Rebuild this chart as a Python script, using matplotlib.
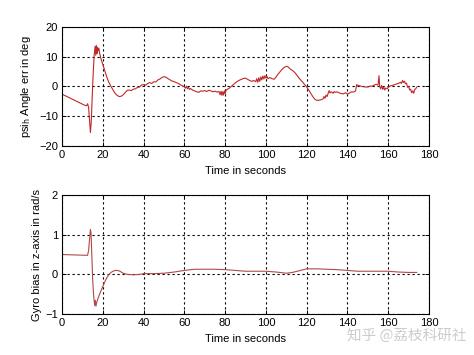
import matplotlib
matplotlib.use("Agg")
import matplotlib.pyplot as plt

# ---- data ----
top_t = [0, 3, 6, 9, 11, 12, 12.5, 13, 13.5, 13.9, 14.3, 14.8, 15.3, 15.8, 16.2, 16.5, 16.8, 17.1, 17.4, 17.7,
         18, 18.5, 19, 20, 21, 22, 23, 24, 25, 26, 27, 28, 29, 30, 31, 32, 33, 34, 35, 36, 37, 38, 39, 40,
         41, 42, 43, 44, 45, 46, 47, 48, 49, 50, 51, 52, 53, 54, 55, 56, 57, 58, 59, 60, 60.5, 61, 61.5, 62,
         62.5, 63, 64, 65, 66, 67, 68, 69, 70, 71, 72, 73, 74, 75, 76, 77, 77.5, 78, 78.4, 78.8, 79.2, 79.6,
         80, 80.5, 81, 82, 83, 84, 85, 86, 87, 88, 89, 90, 91, 92, 93, 94, 95, 95.5, 96, 96.5, 97, 97.5, 98,
         98.5, 99, 99.5, 100, 100.5, 101, 102, 103, 104, 105, 106, 107, 108, 109, 110, 111, 112, 113, 114,
         115, 116, 117, 118, 119, 120, 121, 122, 123, 124, 125, 126, 127, 128, 128.5, 129, 129.5, 130, 130.5,
         131, 131.5, 132, 133, 133.5, 134, 135, 136, 137, 138, 139, 140, 141, 142, 143, 144, 144.5, 145, 146,
         147, 148, 149, 150, 151, 152, 153, 154, 155, 155.5, 155.8, 156.3, 156.8, 157.3, 157.8, 158.3, 158.8,
         159.5, 160, 161, 162, 163, 164, 165, 166, 166.5, 167, 167.5, 168, 168.5, 169, 169.5, 170, 170.5, 171,
         171.5, 172, 172.5, 173, 173.5, 174]
top_y = [-2.6, -3.6, -4.6, -5.6, -6.3, -6.5, -5.8, -7, -12, -15.5, -12, -3, 5, 11, 13.5, 10.5, 13.8, 11, 13.2, 12,
         12.8, 11, 9.5, 7.3, 5, 3, 1.3, 0, -1.2, -2.3, -3, -3.4, -3.3, -2.8, -2, -1.3, -1.2, -1.4, -0.9, -0.8,
         -0.3, -0.2, 0.5, 0.6, 0.4, 1.0, 1.3, 1.0, 1.6, 1.5, 2.2, 2.5, 3.0, 3.3, 3.1, 2.6, 2.2, 1.8, 1.6, 1.3,
         1.0, 0.6, 0.2, -0.1, -0.6, 0.1, -0.8, -0.3, -1.0, -0.7, -1.2, -1.5, -1.8, -2.0, -1.5, -1.6, -1.4, -1.7,
         -1.3, -1.5, -1.8, -1.6, -1.9, -1.7, -2.8, -1.6, -3.0, -1.8, -2.9, -1.5, -2.4, -1.2, -1.0, -0.6, 0.0,
         0.6, 1.2, 1.7, 2.1, 2.4, 2.7, 2.8, 2.4, 2.0, 1.7, 2.0, 1.6, 2.6, 1.4, 2.9, 1.7, 3.2, 2.2, 3.5, 2.5, 3.6,
         2.8, 3.4, 2.6, 3.0, 2.6, 2.4, 3.2, 4.2, 5.0, 5.8, 6.4, 6.8, 6.5, 5.8, 5.4, 4.8, 4.0, 3.0, 2.2, 1.5,
         0.6, -0.2, -1.2, -2.3, -3.4, -4.3, -4.7, -4.6, -4.5, -4.2, -3.4, -4.0, -2.9, -3.4, -2.4, -1.4, -2.2,
         -1.8, -2.3, -1.7, -2.0, -1.8, -2.2, -2.4, -2.5, -2.1, -2.6, -2.2, -1.8, -1.9, -1.5, 0.6, 0.4, 0.2, 0.0,
         -0.1, -0.2, -0.2, 0.1, 0.1, 0.4, 0.7, 0.5, 3.6, 0.2, -0.8, 0.3, -1.0, -0.2, -1.2, -0.5, -0.8, -0.3,
         0.2, 0.3, 0.6, 0.8, 1.0, 1.4, 1.0, 2.0, 1.3, 1.8, 0.9, 1.1, -0.3, 0.1, -1.2, -0.9, -2.1, -1.5, -2.3,
         -1.0, -0.8, -0.2]

bias_t = [0, 12.5, 13.0, 13.5, 13.9, 14.2, 14.5, 15, 15.5, 16, 16.3, 16.6, 17, 17.5, 18, 19, 20, 21, 22, 23,
          24, 25, 26, 27, 28, 29, 30, 32, 35, 38, 40, 45, 50, 55, 60, 65, 70, 75, 80, 85, 90, 95, 100, 105,
          110, 113, 117, 120, 125, 130, 135, 140, 145, 150, 155, 160, 165, 170, 174]
bias_y = [0.5, 0.48, 0.6, 0.9, 1.13, 1.05, 0.6, -0.13, -0.55, -0.78, -0.65, -0.8, -0.7, -0.62, -0.55, -0.42,
          -0.3, -0.18, -0.08, 0.0, 0.05, 0.08, 0.1, 0.1, 0.09, 0.06, 0.03, 0.0, -0.01, 0.0, 0.02, 0.02, 0.03,
          0.06, 0.1, 0.13, 0.13, 0.13, 0.12, 0.1, 0.08, 0.08, 0.08, 0.06, 0.03, 0.05, 0.1, 0.14, 0.14, 0.13,
          0.12, 0.1, 0.08, 0.08, 0.08, 0.08, 0.06, 0.05, 0.05]

x_ticks = [0, 20, 40, 60, 80, 100, 120, 140, 160, 180]
top_yticks = [-20, -10, 0, 10, 20]
bias_yticks = [-1, 0, 1, 2]

plt.rcParams['font.family'] = ['Liberation Sans', 'DejaVu Sans']
plt.rcParams['font.size'] = 8

fig = plt.figure(figsize=(4.74, 3.55), dpi=100)
ax1 = fig.add_axes([0.131, 0.589, 0.774, 0.335])
ax2 = fig.add_axes([0.131, 0.115, 0.774, 0.336])


def style(ax, yticks):
    ax.set_xlim(0, 180)
    ax.set_ylim(yticks[0], yticks[-1])
    ax.set_xticks(x_ticks)
    ax.set_yticks(yticks)
    ax.grid(True, color='black', linestyle=(0, (2, 2.5)), linewidth=0.8)
    ax.tick_params(direction='in', length=3, top=True, right=True, width=0.7, labelsize=8, pad=3)
    for s in ax.spines.values():
        s.set_linewidth(0.8)
    ax.set_xlabel("Time in seconds", labelpad=4)


ax1.plot(top_t, top_y, color='#c0282a', linewidth=0.8)
style(ax1, top_yticks)
ax1.set_ylabel("psi$_\\mathrm{h}$ Angle err in deg")
ax1.yaxis.set_label_coords(-0.08, 0.5)

ax2.plot(bias_t, bias_y, color='#b04848', linewidth=0.8)
style(ax2, bias_yticks)
ax2.set_ylabel("Gyro bias in z-axis in rad/s")
ax2.yaxis.set_label_coords(-0.055, 0.5)

fig.text(0.985, 0.055, "知乎 @荔枝科研社", color='#cccccc', fontsize=10.5, ha='right', va='center',
         family=['Noto Sans CJK SC', 'DejaVu Sans'])

fig.savefig("out.png", dpi=100)
